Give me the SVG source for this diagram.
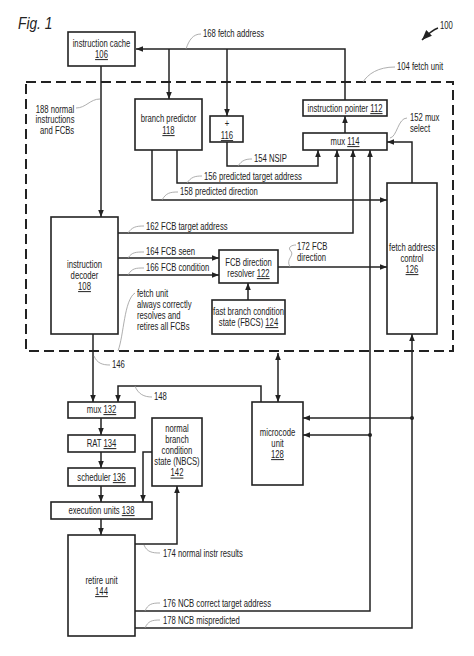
<svg xmlns="http://www.w3.org/2000/svg" width="474" height="656" viewBox="0 0 474 656">
<style>
.box{fill:#fff;stroke:#222;stroke-width:1.6}
.ln{fill:none;stroke:#222;stroke-width:1.5}
.ldr{fill:none;stroke:#999;stroke-width:0.8}
.dash{fill:none;stroke:#222;stroke-width:2;stroke-dasharray:10,5}
text{font-family:"Liberation Sans",Arial,sans-serif;font-size:10px;fill:#222;transform:scaleX(.77);transform-box:fill-box;transform-origin:0 50%}
text.c{text-anchor:middle;transform-origin:50% 50%}
.u{text-decoration:underline}
text.fig{font-size:16px;font-style:italic;transform:scaleX(.86)}
</style>
<defs>
<marker id="ah" viewBox="0 0 10 10" refX="10" refY="5" markerWidth="7" markerHeight="7" orient="auto-start-reverse" markerUnits="userSpaceOnUse">
<path d="M0,1 L10,5 L0,9 z" fill="#222"/>
</marker>
<marker id="ah2" viewBox="0 0 10 10" refX="10" refY="5" markerWidth="10" markerHeight="10" orient="auto" markerUnits="userSpaceOnUse">
<path d="M0,1 L10,5 L0,9 z" fill="#222"/>
</marker>
</defs>
<rect width="474" height="656" fill="#fff"/>
<text x="18" y="29" class="fig">Fig. 1</text>
<g id="ref100">
<text x="440" y="29">100</text>
<path class="ln" d="M438,28 C432,30 428,34 422,40" marker-end="url(#ah2)"/>
</g>
<g id="fetch-unit">
<rect class="dash" x="26" y="82" width="427" height="269"/>
<text x="397" y="70">104 fetch unit</text>
<path class="ldr" d="M363,82 C368,74 378,67 395,67"/>
</g>
<g id="connectors">
<path class="ln" d="M345,100 V49 H136" marker-end="url(#ah)"/>
<path class="ln" d="M169,49 V99" marker-end="url(#ah)"/>
<path class="ln" d="M227,49 V116" marker-end="url(#ah)"/>
<path class="ln" d="M101,66 V217" marker-end="url(#ah)"/>
<path class="ln" d="M345,133 V116" marker-end="url(#ah)"/>
<path class="ln" d="M227,142 V166 H318 V150" marker-end="url(#ah)"/>
<path class="ln" d="M177,150 V183 H337 V150" marker-end="url(#ah)"/>
<path class="ln" d="M152,150 V200 H387" marker-end="url(#ah)"/>
<path class="ln" d="M412,183 V142 H387" marker-end="url(#ah)"/>
<path class="ln" d="M118,233 H353 V150" marker-end="url(#ah)"/>
<path class="ln" d="M118,258 H219" marker-end="url(#ah)"/>
<path class="ln" d="M118,275 H219" marker-end="url(#ah)"/>
<path class="ln" d="M248,300 V283" marker-end="url(#ah)"/>
<path class="ln" d="M278,267 H387" marker-end="url(#ah)"/>
<path class="ln" d="M93,334 V402" marker-end="url(#ah)"/>
<path class="ln" d="M261,402 V386 H118 V402" marker-end="url(#ah)"/>
<path class="ln" d="M278,353 V402" marker-start="url(#ah)" marker-end="url(#ah)"/>
<path class="ln" d="M101,418 V435" marker-end="url(#ah)"/>
<path class="ln" d="M101,452 V468" marker-end="url(#ah)"/>
<path class="ln" d="M101,486 V502" marker-end="url(#ah)"/>
<path class="ln" d="M152,452 H143 V502" marker-end="url(#ah)"/>
<path class="ln" d="M101,519 V535" marker-end="url(#ah)"/>
<path class="ln" d="M135,544 H177 V486" marker-end="url(#ah)"/>
<path class="ln" d="M135,611 H370 V150" marker-end="url(#ah)"/>
<path class="ln" d="M135,628 H412 V334" marker-end="url(#ah)"/>
<path class="ln" d="M412,418 H303" marker-end="url(#ah)"/>
<path class="ln" d="M370,435 H303" marker-end="url(#ah)"/>
<circle cx="412" cy="418" r="2" fill="#222"/>
<circle cx="370" cy="435" r="2" fill="#222"/>
</g>
<g id="labels">
<text x="203" y="37">168 fetch address</text>
<path class="ldr" d="M186,49 C189,40 193,34 201,34"/>
<text x="55" y="113" class="c">188  normal</text>
<text x="55" y="123.5" class="c">instructions</text>
<text x="57" y="134" class="c">and FCBs</text>
<path class="ldr" d="M76,108 C86,108 90,99 100,99"/>
<text x="410" y="121">152 mux</text>
<text x="410" y="132">select</text>
<path class="ldr" d="M390,138 C397,137 398,118 407,118"/>
<text x="254" y="162">154 NSIP</text>
<path class="ldr" d="M238,166 C242,160 246,159 252,159"/>
<text x="204" y="180">156 predicted target address</text>
<path class="ldr" d="M187,183 C191,177 195,176 202,176"/>
<text x="180" y="195">158 predicted direction</text>
<path class="ldr" d="M162,200 C166,193 170,192 178,192"/>
<text x="146" y="230">162 FCB target address</text>
<path class="ldr" d="M128,233 C132,227 136,226 144,226"/>
<text x="146" y="255">164 FCB seen</text>
<path class="ldr" d="M128,258 C132,252 136,252 144,252"/>
<text x="146" y="271">166 FCB condition</text>
<path class="ldr" d="M128,275 C132,268 136,268 144,268"/>
<text x="297" y="250">172 FCB</text>
<text x="297" y="261">direction</text>
<path class="ldr" d="M290,267 C285,258 296,256 290,250 C288,247 292,245 296,245"/>
<text x="137" y="297">fetch unit</text>
<text x="137" y="308">always correctly</text>
<text x="137" y="319">resolves and</text>
<text x="137" y="330">retires all FCBs</text>
<path class="ldr" d="M118,351 C124,335 124,300 135,293"/>
<text x="112" y="368">146</text>
<path class="ldr" d="M94,356 C97,363 102,365 110,365"/>
<text x="154" y="400">148</text>
<path class="ldr" d="M135,386 C138,394 144,397 152,397"/>
<text x="163" y="557">174 normal instr results</text>
<path class="ldr" d="M144,545 C147,552 152,553 160,553"/>
<text x="163" y="607">176 NCB correct target address</text>
<path class="ldr" d="M145,611 C148,604 152,603 160,603"/>
<text x="163" y="624">178 NCB mispredicted</text>
<path class="ldr" d="M145,628 C148,621 152,620 160,620"/>
</g>
<g id="instruction-cache">
<rect class="box" x="68" y="32" width="67" height="34"/>
<text x="101.5" y="47" class="c">instruction cache</text>
<text x="101.5" y="58" class="c"><tspan class="u">106</tspan></text>
</g>
<g id="branch-predictor">
<rect class="box" x="135" y="99" width="67" height="51"/>
<text x="168.5" y="122" class="c">branch predictor</text>
<text x="168.5" y="134" class="c"><tspan class="u">118</tspan></text>
</g>
<g id="adder">
<rect class="box" x="210" y="116" width="33" height="26"/>
<text x="227" y="127" class="c">+</text>
<text x="227" y="139" class="c"><tspan class="u">116</tspan></text>
</g>
<g id="instruction-pointer">
<rect class="box" x="303" y="100" width="84" height="16"/>
<text x="345" y="112" class="c">instruction pointer <tspan class="u">112</tspan></text>
</g>
<g id="mux114">
<rect class="box" x="303" y="133" width="84" height="17"/>
<text x="345" y="145" class="c">mux <tspan class="u">114</tspan></text>
</g>
<g id="fetch-address-control">
<rect class="box" x="387" y="183" width="50" height="151"/>
<text x="412" y="251" class="c">fetch address</text>
<text x="412" y="262" class="c">control</text>
<text x="412" y="273" class="c"><tspan class="u">126</tspan></text>
</g>
<g id="instruction-decoder">
<rect class="box" x="51" y="217" width="67" height="117"/>
<text x="84.5" y="268" class="c">instruction</text>
<text x="84.5" y="279" class="c">decoder</text>
<text x="84.5" y="290" class="c"><tspan class="u">108</tspan></text>
</g>
<g id="fcb-direction-resolver">
<rect class="box" x="219" y="250" width="59" height="33"/>
<text x="248.5" y="266" class="c">FCB direction</text>
<text x="248.5" y="277" class="c">resolver  <tspan class="u">122</tspan></text>
</g>
<g id="fbcs">
<rect class="box" x="212" y="300" width="73" height="34"/>
<text x="248.5" y="315" class="c">fast branch condition</text>
<text x="248.5" y="326" class="c">state (FBCS) <tspan class="u">124</tspan></text>
</g>
<g id="mux132">
<rect class="box" x="68" y="402" width="67" height="16"/>
<text x="101.5" y="413" class="c">mux <tspan class="u">132</tspan></text>
</g>
<g id="rat">
<rect class="box" x="68" y="435" width="67" height="17"/>
<text x="101.5" y="447" class="c">RAT <tspan class="u">134</tspan></text>
</g>
<g id="scheduler">
<rect class="box" x="68" y="468" width="67" height="18"/>
<text x="101.5" y="481" class="c">scheduler <tspan class="u">136</tspan></text>
</g>
<g id="execution-units">
<rect class="box" x="51" y="502" width="101" height="17"/>
<text x="101.5" y="514" class="c">execution units  <tspan class="u">138</tspan></text>
</g>
<g id="nbcs">
<rect class="box" x="152" y="418" width="50" height="68"/>
<text x="177" y="432.5" class="c">normal</text>
<text x="177" y="443.5" class="c">branch</text>
<text x="177" y="454.5" class="c">condition</text>
<text x="177" y="465.5" class="c">state (NBCS)</text>
<text x="177" y="476.5" class="c"><tspan class="u">142</tspan></text>
</g>
<g id="microcode-unit">
<rect class="box" x="252" y="402" width="51" height="83"/>
<text x="277.5" y="436" class="c">microcode</text>
<text x="277.5" y="447" class="c">unit</text>
<text x="277.5" y="458" class="c"><tspan class="u">128</tspan></text>
</g>
<g id="retire-unit">
<rect class="box" x="68" y="535" width="67" height="101"/>
<text x="101.5" y="584" class="c">retire unit</text>
<text x="101.5" y="595" class="c"><tspan class="u">144</tspan></text>
</g>
</svg>
